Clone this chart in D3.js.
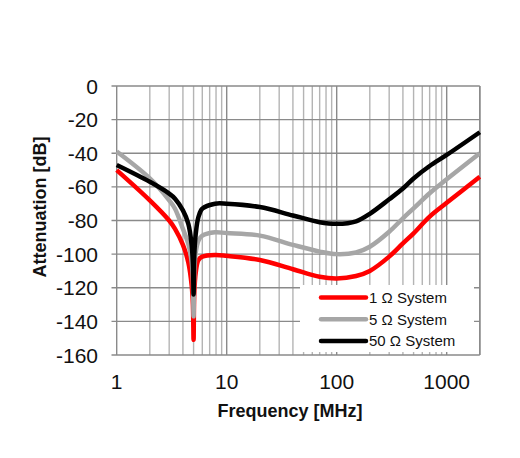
<!DOCTYPE html>
<html>
<head>
<meta charset="utf-8">
<script src="https://cdn.jsdelivr.net/npm/d3@7"></script>
<style>
body{margin:0;background:#fff;}
text{font-family:"Liberation Sans",Arial,sans-serif;}
</style>
</head>
<body>
<div id="chart"></div>
<script>
// frequency points [MHz]
const freqs = [1,2,3,3.39,4,4.48,4.81,4.93,5,5.07,5.23,5.53,6,7.83,10,20,40,70,100,150,200,300,400,500,700,1000,2000];
// attenuation [dB] per system
const sys1  = [-50,-68,-80,-85,-94.5,-105,-119,-130,-151,-124,-111,-103.5,-101.5,-100.5,-101,-103.5,-109,-113.5,-114.5,-113,-110,-101.5,-93.6,-87.6,-77.7,-69.5,-54];
const sys5  = [-39,-55,-68,-73,-85,-94,-105,-116,-137,-112,-99,-92,-89,-87,-87.5,-89,-94.5,-98.5,-100,-99,-95.6,-86.7,-78.7,-72.8,-63.8,-55.5,-40];
const sys50 = [-47,-57,-64,-67,-74,-82,-95,-106,-124,-101,-88,-78,-73,-70,-70,-72,-77,-81,-82,-80.5,-76,-67.4,-61,-55,-47.6,-41,-27.5];
const seriesNames = ["1 \u03A9 System","5 \u03A9 System","50 \u03A9 System"];
const seriesColors = ["#ff0000","#a6a6a6","#000000"];
const yTicks = [0,-20,-40,-60,-80,-100,-120,-140,-160];
const xLabels = [1,10,100,1000];

var W = 520, H = 458;
var svg = d3.select("#chart").append("svg")
	.attr("width",W)
	.attr("height",H);

var x = d3.scaleLog().domain([1,2000]).range([116.7,479.8]);
var y = d3.scaleLinear().domain([-160,0]).range([355,86]);

// minor + major vertical grid
var vlines = [];
for(var d = 1; d <= 1000; d *= 10){
	for(var k = 1; k <= 9; k++){
		if(d*k <= 2000) vlines.push(d*k);
	}
}
vlines.push(2000);

var grid = svg.append("g");
grid.selectAll(".vg").data(vlines).enter().append("line")
	.attr("x1",function(v){return x(v);})
	.attr("x2",function(v){return x(v);})
	.attr("y1",y(0))
	.attr("y2",y(-160))
	.attr("stroke",function(v){return (Math.log10(v)%1===0 || v===2000) ? "#8a8a8a" : "#b4b4b4";})
	.attr("stroke-width",1.4);

grid.selectAll(".hg").data(yTicks).enter().append("line")
	.attr("x1",111.5)
	.attr("x2",x(2000))
	.attr("y1",function(v){return y(v);})
	.attr("y2",function(v){return y(v);})
	.attr("stroke","#8a8a8a")
	.attr("stroke-width",1.4);

// y tick labels
svg.append("g").selectAll("text").data(yTicks).enter().append("text")
	.attr("x",98)
	.attr("y",function(v){return y(v);})
	.attr("dy","0.36em")
	.attr("text-anchor","end")
	.style("font-size","21px")
	.attr("fill","#111")
	.text(function(v){return v;});

// x tick labels
svg.append("g").selectAll("text").data(xLabels).enter().append("text")
	.attr("x",function(v){return x(v);})
	.attr("y",389)
	.attr("text-anchor","middle")
	.style("font-size","21px")
	.attr("fill","#111")
	.text(function(v){return v;});

// axis titles
svg.append("text")
	.attr("x",290)
	.attr("y",417)
	.attr("text-anchor","middle")
	.style("font-size","18px")
	.style("font-weight","bold")
	.attr("fill","#111")
	.text("Frequency [MHz]");

svg.append("text")
	.attr("transform","translate(46,207) rotate(-90)")
	.attr("text-anchor","middle")
	.style("font-size","18px")
	.style("font-weight","bold")
	.attr("fill","#111")
	.text("Attenuation [dB]");

// curves
var allSeries = [sys1,sys5,sys50];
var line = d3.line()
	.x(function(d){return x(d[0]);})
	.y(function(d){return y(d[1]);})
	.curve(d3.curveCatmullRom.alpha(0.5));

for(var s = 0; s < allSeries.length; s++){
	var pts = freqs.map(function(f,i){return [f,allSeries[s][i]];});
	svg.append("path")
		.attr("d",line(pts))
		.attr("fill","none")
		.attr("stroke",seriesColors[s])
		.attr("stroke-width",4.5)
		.attr("stroke-linejoin","round");
}

// legend
svg.append("rect")
	.attr("x",300)
	.attr("y",285)
	.attr("width",174)
	.attr("height",67)
	.attr("fill","#fff");

var leg = svg.append("g");
for(var s = 0; s < seriesNames.length; s++){
	var ly = 297.5 + s*21.7;
	leg.append("line")
		.attr("x1",321).attr("x2",366)
		.attr("y1",ly).attr("y2",ly)
		.attr("stroke",seriesColors[s])
		.attr("stroke-width",4.5)
		.attr("stroke-linecap","round");
	leg.append("text")
		.attr("x",369)
		.attr("y",ly)
		.attr("dy","0.36em")
		.style("font-size","15px")
		.attr("fill","#111")
		.text(seriesNames[s]);
}
</script>
</body>
</html>
